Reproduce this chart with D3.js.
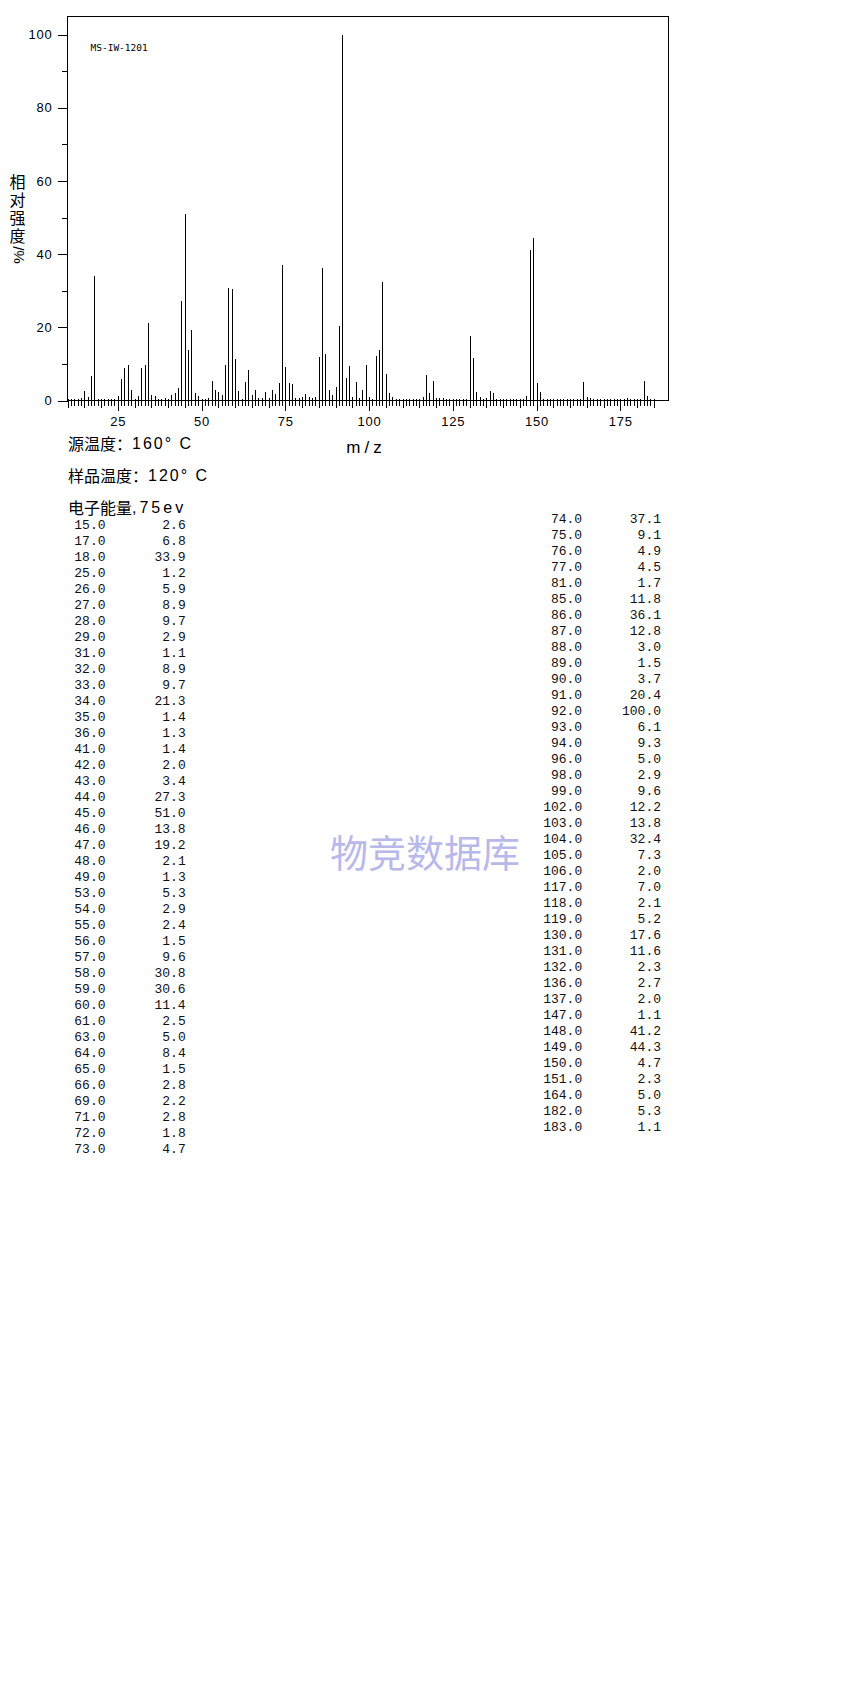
<!DOCTYPE html>
<html><head><meta charset="utf-8">
<script src="https://cdn.jsdelivr.net/npm/d3@7"></script>
<style>body{margin:0;background:#fff} svg{display:block}</style>
</head><body>
<script>
// ---- data ----
const mzValues = [15,17,18,25,26,27,28,29,31,32,33,34,35,36,41,42,43,44,45,46,47,48,49,53,54,55,56,57,58,59,60,61,63,64,65,66,69,71,72,73,
  74,75,76,77,81,85,86,87,88,89,90,91,92,93,94,96,98,99,102,103,104,105,106,117,118,119,130,131,132,136,137,147,148,149,150,151,164,182,183];
const intensities = [2.6,6.8,33.9,1.2,5.9,8.9,9.7,2.9,1.1,8.9,9.7,21.3,1.4,1.3,1.4,2.0,3.4,27.3,51.0,13.8,19.2,2.1,1.3,5.3,2.9,2.4,1.5,9.6,30.8,30.6,11.4,2.5,5.0,8.4,1.5,2.8,2.2,2.8,1.8,4.7,
  37.1,9.1,4.9,4.5,1.7,11.8,36.1,12.8,3.0,1.5,3.7,20.4,100.0,6.1,9.3,5.0,2.9,9.6,12.2,13.8,32.4,7.3,2.0,7.0,2.1,5.2,17.6,11.6,2.3,2.7,2.0,1.1,41.2,44.3,4.7,2.3,5.0,5.3,1.1];
// small peaks (< 1 %) visible in the plot but not listed in the table
const minorMz = [12,13,14,16,39,52,67,68,70,78,79,80,82,83,84,95,97,100,107,116,120,121,122,133,135,165,166,177,184];
const minorIntensities = [0.4,0.4,0.6,0.9,0.6,0.6,0.6,0.6,0.6,0.6,0.6,0.9,0.9,0.6,0.9,0.9,0.6,0.9,0.9,0.9,0.6,0.6,0.6,0.9,0.6,0.9,0.6,0.6,0.5];
const xTickLabels = [25,50,75,100,125,150,175];
const yTickLabels = [0,20,40,60,80,100];
const yMinorTicks = [10,30,50,70,90];
const yTitleHead = "相对强度";
const yTitleTail = "%/";
const xTitle = "m/z";
const sampleId = "MS-IW-1201";
const infoLabels = ["源温度：","样品温度：","电子能量"];
const infoValues = ["160° C","120° C",",75ev"];
const watermark = "物竞数据库";
const leftColumnCount = 40;

// ---- drawing ----
const W = 850, H = 1701;
const svg = d3.select("body").append("svg").attr("width", W).attr("height", H)
  .style("font-family", "'Liberation Sans', Arial, sans-serif");
svg.append("rect").attr("width", W).attr("height", H).attr("fill", "#fff");

const x = d3.scaleLinear().domain([10, 189.4]).range([67.5, 668.5]);
const y = d3.scaleLinear().domain([0, 100]).range([400.5, 34.5]);
const frameTop = 16.5;
const cjk = "'Noto Sans CJK SC', sans-serif";

// watermark
svg.append("text").attr("x", 425).attr("y", 850).attr("text-anchor", "middle")
  .attr("dominant-baseline", "central")
  .style("font-family", cjk).style("font-size", "38px")
  .attr("fill", "#b9b9e9").text(watermark);

// peaks
const peaks = mzValues.map((m, i) => ({mz: m, v: intensities[i]}))
  .concat(minorMz.map((m, i) => ({mz: m, v: minorIntensities[i]})));
svg.append("g").attr("shape-rendering", "crispEdges")
  .selectAll("line").data(peaks).join("line")
  .attr("x1", d => Math.round(x(d.mz)) + 0.5).attr("x2", d => Math.round(x(d.mz)) + 0.5)
  .attr("y1", y(0)).attr("y2", d => y(d.v))
  .attr("stroke", "#000").attr("stroke-width", 1);

// x axis (minor tick every unit)
const xAxis = d3.axisBottom(x).tickValues(d3.range(10, 186)).tickSize(5)
  .tickFormat(d => xTickLabels.includes(d) ? d : "");
const gx = svg.append("g").attr("transform", `translate(0,${y(0)})`).call(xAxis);
gx.select(".domain").remove();
gx.selectAll(".tick line").attr("shape-rendering", "crispEdges")
  .attr("y1", -1.5).attr("y2", d => d % 25 === 0 ? 10 : (d % 5 === 0 ? 7 : 5));
gx.selectAll(".tick text").attr("y", 25.5).attr("dy", null)
  .style("font-size", "13px").style("letter-spacing", "0.8px").attr("fill", "#000");

// y axis
const yAxis = d3.axisLeft(y).tickValues(yTickLabels.concat(yMinorTicks)).tickSize(10)
  .tickFormat(d => yTickLabels.includes(d) ? d : "");
const gy = svg.append("g").attr("transform", `translate(${x(10)},0)`).call(yAxis);
gy.select(".domain").remove();
gy.selectAll(".tick line").attr("shape-rendering", "crispEdges")
  .attr("x2", d => yTickLabels.includes(d) ? -10 : -6);
gy.selectAll(".tick text").attr("x", -15).style("font-size", "13px")
  .style("letter-spacing", "0.8px").attr("fill", "#000");

// frame
svg.append("rect").attr("x", x(10)).attr("y", frameTop).attr("width", x(189.4) - x(10))
  .attr("height", y(0) - frameTop).attr("fill", "none").attr("stroke", "#000")
  .attr("shape-rendering", "crispEdges");

// sample id
svg.append("text").attr("x", 90.5).attr("y", 47.7).attr("dominant-baseline", "central")
  .style("font-family", "'DejaVu Sans Mono', monospace").style("font-size", "9.5px")
  .attr("fill", "#000").text(sampleId);

// y title (vertical characters, then rotated "%/")
svg.append("text").attr("x", 17.5).attr("y", 173.5)
  .style("writing-mode", "vertical-rl").style("letter-spacing", "2.3px")
  .style("font-family", cjk).style("font-size", "16px").attr("fill", "#000").text(yTitleHead);
svg.append("text").attr("transform", "translate(18.5,255) rotate(-90)")
  .attr("text-anchor", "middle").attr("dominant-baseline", "central")
  .style("font-size", "15px").attr("fill", "#000").text(yTitleTail);

// x title
svg.append("text").attr("x", 366).attr("y", 447).attr("text-anchor", "middle")
  .attr("dominant-baseline", "central").style("font-size", "17px")
  .style("letter-spacing", "4px").attr("fill", "#000").text(xTitle);

// info lines
const info = svg.append("g").selectAll("text").data(infoLabels).join("text")
  .attr("x", 68).attr("y", (d, i) => 443.3 + i * 31.7).attr("dominant-baseline", "central")
  .style("font-size", "16px").attr("fill", "#000");
info.append("tspan").style("font-family", cjk).text(d => d);
info.append("tspan").style("font-family", "'Liberation Sans', Arial, sans-serif")
  .style("letter-spacing", (d, i) => i === 2 ? "3px" : "2px").text((d, i) => infoValues[i]);

// table
const rows = mzValues.map((m, i) => ({k: m.toFixed(1), v: intensities[i].toFixed(1), i}));
const mono = "'Liberation Mono', 'Courier New', monospace";
const colDefs = [
  {rows: rows.slice(0, leftColumnCount), keyRight: 105.5, valRight: 185.7, y0: 525},
  {rows: rows.slice(leftColumnCount), keyRight: 582.2, valRight: 661, y0: 519}
];
colDefs.forEach(c => {
  const g = svg.append("g").style("font-family", mono).style("font-size", "13px").attr("fill", "#111");
  g.selectAll("text.k").data(c.rows).join("text").attr("class", "k")
    .attr("x", c.keyRight).attr("y", (d, j) => c.y0 + j * 16).attr("text-anchor", "end")
    .attr("dominant-baseline", "central").text(d => d.k);
  g.selectAll("text.v").data(c.rows).join("text").attr("class", "v")
    .attr("x", c.valRight).attr("y", (d, j) => c.y0 + j * 16).attr("text-anchor", "end")
    .attr("dominant-baseline", "central").text(d => d.v);
});
</script>
</body></html>
